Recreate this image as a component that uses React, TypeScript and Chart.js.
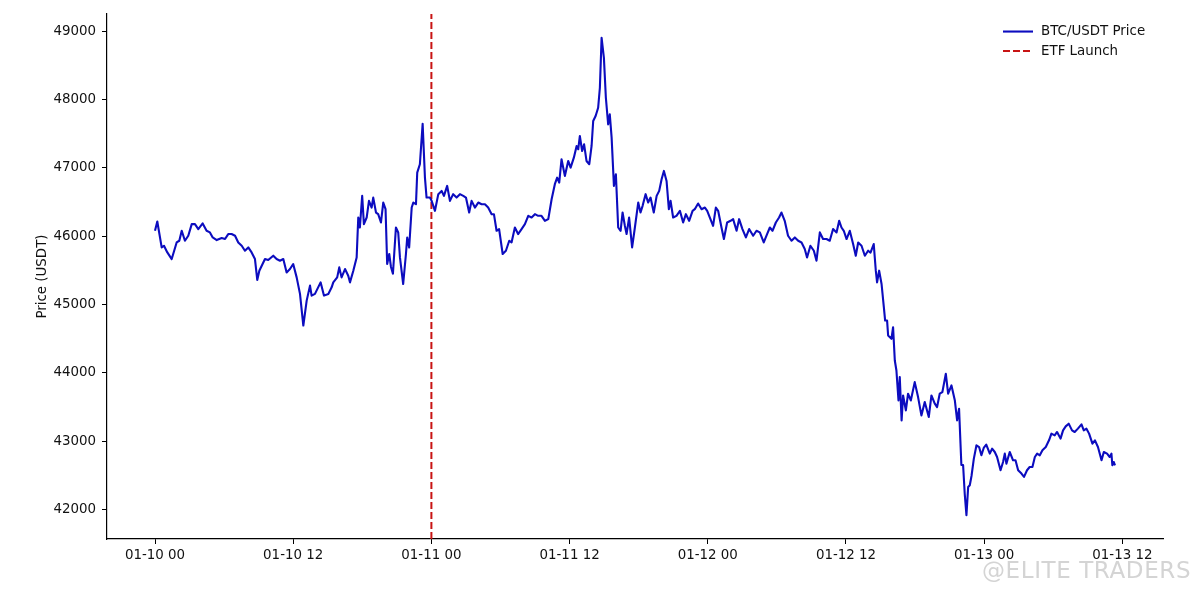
import { useEffect, useRef } from 'react';
import { Chart, registerables } from 'chart.js';

Chart.register(...registerables);

// hours since 01-10 00:00
const priceHours = [
  0, 0.2, 0.58, 0.78, 1.07, 1.45, 1.88, 2.11, 2.32, 2.6, 2.89, 3.19, 3.47, 3.76, 4.14, 4.48, 4.77, 5.01, 5.36,
  5.79, 6.08, 6.36, 6.65, 6.95, 7.23, 7.53, 7.81, 8.1, 8.39, 8.68, 8.88, 9.06, 9.55, 9.83, 10.27, 10.56, 10.85,
  11.14, 11.43, 11.72, 12.0, 12.3, 12.59, 12.88, 13.17, 13.46, 13.6, 13.89, 14.38, 14.67, 15.05, 15.34, 15.48,
  15.82, 16.0, 16.2, 16.5, 16.78, 16.93, 17.22, 17.51, 17.65, 17.79, 17.99, 18.14, 18.38, 18.58, 18.81, 18.95,
  19.19, 19.38, 19.62, 19.82, 20.02, 20.16, 20.34, 20.49, 20.66, 20.92, 21.12, 21.27, 21.55, 21.79, 21.9, 22.07,
  22.29, 22.43, 22.66, 22.77, 23.0, 23.24, 23.44, 23.58, 23.87, 24.02, 24.31, 24.6, 24.89, 25.09, 25.37, 25.61,
  25.89, 26.19, 26.48, 26.77, 27.0, 27.28, 27.49, 27.78, 28.07, 28.36, 28.65, 28.93, 29.23, 29.43, 29.66, 29.88,
  30.19, 30.47, 30.76, 30.96, 31.25, 31.53, 31.83, 32.12, 32.41, 32.7, 32.99, 33.27, 33.56, 33.86, 34.15, 34.44,
  34.72, 34.92, 35.1, 35.3, 35.59, 35.88, 36.09, 36.37, 36.61, 36.75, 36.89, 37.09, 37.26, 37.47, 37.71, 37.91,
  38.05, 38.26, 38.48, 38.63, 38.78, 38.98, 39.15, 39.35, 39.49, 39.65, 39.85, 40.02, 40.22, 40.43, 40.6, 40.8,
  40.95, 41.17, 41.43, 41.67, 41.96, 42.16, 42.34, 42.6, 42.82, 43.03, 43.31, 43.56, 43.78, 43.99, 44.19, 44.42,
  44.62, 44.77, 44.99, 45.28, 45.58, 45.86, 46.1, 46.38, 46.68, 46.87, 47.16, 47.46, 47.75, 47.95, 48.18, 48.46,
  48.7, 48.9, 49.19, 49.4, 49.68, 49.98, 50.2, 50.5, 50.72, 51.01, 51.31, 51.59, 51.94, 52.23, 52.52, 52.86,
  53.15, 53.39, 53.62, 53.91, 54.19, 54.4, 54.68, 54.97, 55.27, 55.56, 55.85, 56.14, 56.42, 56.62, 56.91, 57.21,
  57.44, 57.73, 58.01, 58.31, 58.59, 58.88, 59.18, 59.41, 59.61, 59.81, 60.05, 60.33, 60.62, 60.85, 61.06, 61.35,
  61.64, 61.92, 62.13, 62.41, 62.59, 62.7, 62.88, 63.09, 63.29, 63.4, 63.57, 63.66, 63.95, 64.09, 64.24, 64.38,
  64.56, 64.67, 64.83, 64.96, 65.2, 65.39, 65.63, 65.97, 66.26, 66.55, 66.84, 67.19, 67.42, 67.71, 67.91, 68.14,
  68.37, 68.67, 68.87, 69.16, 69.45, 69.65, 69.82, 70.02, 70.17, 70.31, 70.46, 70.61, 70.75, 70.9, 71.1, 71.33,
  71.56, 71.76, 71.96, 72.18, 72.49, 72.69, 72.92, 73.12, 73.42, 73.64, 73.79, 73.93, 74.22, 74.51, 74.72, 74.95,
  75.24, 75.46, 75.72, 75.95, 76.19, 76.4, 76.6, 76.83, 77.06, 77.35, 77.63, 77.84, 78.12, 78.33, 78.63, 78.85,
  79.08, 79.34, 79.63, 79.86, 80.14, 80.45, 80.65, 80.88, 81.11, 81.4, 81.62, 81.88, 82.19, 82.39, 82.67, 82.9,
  83.05, 83.13, 83.25, 83.36,
];

const priceValues = [
  46079, 46215, 45835, 45860, 45762, 45665, 45908, 45933, 46079, 45933, 46006, 46177, 46177, 46104, 46187, 46079, 46055, 45981, 45943,
  45972, 45958, 46031, 46031, 46006, 45908, 45860, 45787, 45835, 45762, 45665, 45359, 45495, 45665, 45651, 45714, 45665, 45641,
  45665, 45470, 45519, 45592, 45397, 45155, 44692, 45057, 45276, 45130, 45155, 45324, 45130, 45155, 45251, 45324,
  45397, 45543, 45397, 45519, 45422, 45324, 45495, 45689, 46273, 46127, 46590, 46177, 46273, 46517, 46419, 46565,
  46346, 46322, 46200, 46492, 46395, 45592, 45739, 45550, 45450, 46127, 46054, 45689, 45300, 45739, 45981, 45835,
  46419, 46492, 46468, 46930, 47053, 47646, 46857, 46565, 46565, 46517, 46371, 46615, 46663, 46590, 46736, 46517,
  46615, 46565, 46615, 46590, 46565, 46346, 46517, 46419, 46492, 46468, 46468, 46419, 46322, 46322, 46079, 46104,
  45739, 45787, 45933, 45908, 46127, 46031, 46104, 46177, 46298, 46273, 46322, 46298, 46298, 46225, 46249, 46541,
  46761, 46857, 46784, 47126, 46882, 47101, 47004, 47149, 47320, 47272, 47466, 47247, 47345, 47101, 47053, 47320,
  47686, 47759, 47880, 48172, 48902, 48610, 48026, 47637, 47783, 47442, 46736, 46907, 46127, 46079, 46346, 46152,
  46031, 46273, 45835, 46127, 46492, 46346, 46444, 46615, 46492, 46565, 46346, 46590, 46663, 46834, 46955, 46809,
  46395, 46517, 46273, 46298, 46371, 46200, 46322, 46225, 46371, 46395, 46478, 46395, 46419, 46371, 46273, 46152,
  46419, 46371, 46127, 45958, 46200, 46225, 46249, 46079, 46249, 46104, 45981, 46104, 46006, 46079, 46055, 45908,
  46031, 46127, 46079, 46200, 46273, 46346, 46225, 46006, 45933, 45981, 45933, 45908, 45812, 45689, 45860, 45787,
  45641, 46055, 45958, 45958, 45933, 46104, 46055, 46225, 46127, 46079, 45958, 46079, 45885, 45714, 45908, 45860,
  45714, 45787, 45760, 45885, 45495, 45324, 45495, 45300, 44959, 44765, 44765, 44546, 44497, 44667, 44180, 44034,
  43596, 43937, 43304, 43669, 43450, 43694, 43596, 43864, 43645, 43377, 43572, 43353, 43669, 43548, 43499, 43694,
  43718, 43986, 43694, 43815, 43600, 43304, 43475, 42650, 42650, 42233, 41917, 42330, 42355, 42490, 42740, 42939,
  42914, 42793, 42900, 42950, 42817, 42890, 42841, 42768, 42574, 42695, 42817, 42671, 42841, 42720, 42720, 42574,
  42525, 42476, 42574, 42622, 42622, 42768, 42817, 42793, 42866, 42914, 43012, 43110, 43085, 43134, 43037, 43158,
  43216, 43256, 43158, 43134, 43183, 43246, 43158, 43183, 43110, 42963, 43012, 42914, 42720, 42841, 42817, 42768,
  42817, 42647, 42695, 42647,
];

const ETF_LAUNCH_HOUR = 24;

const xTickHours = [0, 12, 24, 36, 48, 60, 72, 84];
const xTickLabels = ['01-10 00', '01-10 12', '01-11 00', '01-11 12', '01-12 00', '01-12 12', '01-13 00', '01-13 12'];
const yTickValues = [42000, 43000, 44000, 45000, 46000, 47000, 48000, 49000];

const FONT = 'DejaVu Sans';
const TEXT = '#111';

// matplotlib-style 5% margins
const xSpan = priceHours[priceHours.length - 1] - priceHours[0];
const xMin = priceHours[0] - xSpan * 0.05;
const xMax = priceHours[priceHours.length - 1] + xSpan * 0.05;
const ySpan = Math.max(...priceValues) - Math.min(...priceValues);
const yMin = Math.min(...priceValues) - ySpan * 0.05;
const yMax = Math.max(...priceValues) + ySpan * 0.05;

const legendPlugin = {
  id: 'mplLegend',
  afterDraw(chart: Chart) {
    const { ctx, chartArea } = chart;
    const x0 = chartArea.right - 160;
    ctx.save();
    ctx.font = `13.4px "${FONT}"`;
    ctx.textBaseline = 'middle';
    chart.data.datasets.forEach((ds: any, i: number) => {
      const y = chartArea.top + 17.5 + i * 19.5;
      ctx.beginPath();
      ctx.strokeStyle = ds.borderColor;
      ctx.lineWidth = ds.borderWidth;
      ctx.setLineDash(ds.borderDash || []);
      ctx.moveTo(x0, y);
      ctx.lineTo(x0 + 30, y);
      ctx.stroke();
      ctx.setLineDash([]);
      ctx.fillStyle = TEXT;
      ctx.fillText(ds.label, x0 + 38, y);
    });
    ctx.restore();
  },
};

export default function App() {
  const canvasRef = useRef<HTMLCanvasElement>(null);
  const chartRef = useRef<Chart | null>(null);

  useEffect(() => {
    if (!canvasRef.current) return;
    if (chartRef.current) chartRef.current.destroy();

    const ctx = canvasRef.current.getContext('2d');
    if (!ctx) return;

    chartRef.current = new Chart(ctx, {
      type: 'line',
      data: {
        datasets: [
          {
            label: 'BTC/USDT Price',
            data: priceHours.map((h, i) => ({ x: h, y: priceValues[i] })),
            borderColor: '#0c0cbf',
            borderWidth: 2.1,
            borderJoinStyle: 'round',
            pointRadius: 0,
            tension: 0,
            fill: false,
          },
          {
            label: 'ETF Launch',
            data: [
              { x: ETF_LAUNCH_HOUR, y: yMin },
              { x: ETF_LAUNCH_HOUR, y: yMax },
            ],
            borderColor: '#c81414',
            borderWidth: 2,
            borderDash: [7, 3],
            pointRadius: 0,
            fill: false,
          },
        ],
      },
      options: {
        animation: false,
        responsive: true,
        maintainAspectRatio: false,
        layout: { padding: { left: 0, right: 37, top: 13, bottom: 0 } },
        plugins: {
          legend: { display: false },
          tooltip: { enabled: false },
        },
        scales: {
          x: {
            type: 'linear',
            min: xMin,
            max: xMax,
            afterBuildTicks: (scale: any) => {
              scale.ticks = xTickHours.map((v) => ({ value: v }));
            },
            afterFit: (scale: any) => {
              scale.height = 55;
            },
            grid: { drawOnChartArea: false, drawTicks: true, tickLength: 5, color: '#000' },
            border: { display: true, color: '#000', width: 1.2 },
            ticks: {
              autoSkip: false,
              maxRotation: 0,
              padding: 3,
              color: TEXT,
              font: { family: FONT, size: 13.4 },
              callback: (val: any) => xTickLabels[xTickHours.indexOf(Number(val))] ?? '',
            },
          },
          y: {
            type: 'linear',
            min: yMin,
            max: yMax,
            afterBuildTicks: (scale: any) => {
              scale.ticks = yTickValues.map((v) => ({ value: v }));
            },
            afterFit: (scale: any) => {
              scale.width = 107;
            },
            grid: { drawOnChartArea: false, drawTicks: true, tickLength: 5, color: '#000' },
            border: { display: true, color: '#000', width: 1.2 },
            ticks: {
              padding: 6,
              color: TEXT,
              font: { family: FONT, size: 13.4 },
              callback: (val: any) => String(val),
            },
            title: {
              display: true,
              text: 'Price (USDT)',
              color: TEXT,
              font: { family: FONT, size: 13.4 },
              padding: { top: 34, bottom: 0 },
            },
          },
        },
      },
      plugins: [legendPlugin],
    });

    return () => {
      if (chartRef.current) {
        chartRef.current.destroy();
        chartRef.current = null;
      }
    };
  }, []);

  return (
    <div style={{ position: 'fixed', left: 0, top: 0, width: 1200, height: 594, background: '#fff' }}>
      <canvas ref={canvasRef} />
      <div
        style={{
          position: 'absolute',
          left: 982,
          top: 557,
          fontFamily: FONT,
          fontSize: 23,
          color: '#d4d4d4',
          letterSpacing: 0.6,
          pointerEvents: 'none',
        }}
      >
        @ELITE TRADERS
      </div>
    </div>
  );
}
